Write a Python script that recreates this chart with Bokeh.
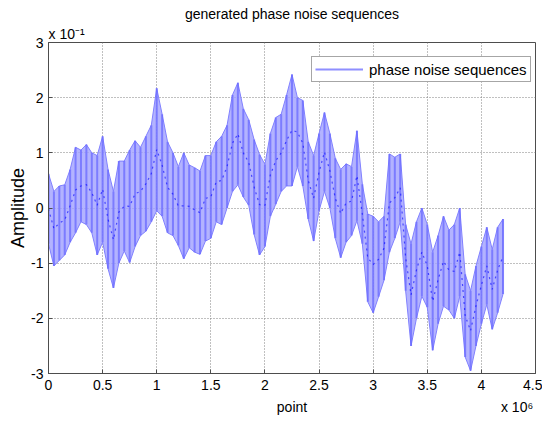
from bokeh.plotting import figure
from bokeh.models import (FixedTicker, CustomJSTickFormatter, Legend, LegendItem,
                          ColumnDataSource, Range1d, Title, LinearAxis)
from bokeh.embed import file_html
from bokeh.resources import INLINE

# point index (samples)
point = [0, 50000, 100000, 150000, 200000, 250000, 300000, 350000, 400000, 450000,
         500000, 550000, 600000, 650000, 700000, 750000, 800000, 850000, 900000, 950000,
         1000000, 1050000, 1100000, 1150000, 1200000, 1250000, 1300000, 1350000, 1400000, 1450000,
         1500000, 1550000, 1600000, 1650000, 1700000, 1750000, 1800000, 1850000, 1900000, 1950000,
         2000000, 2050000, 2100000, 2150000, 2200000, 2250000, 2300000, 2350000, 2400000, 2450000,
         2500000, 2550000, 2600000, 2650000, 2700000, 2750000, 2800000, 2850000, 2900000, 2950000,
         3000000, 3050000, 3100000, 3150000, 3200000, 3250000, 3300000, 3350000, 3400000, 3450000,
         3500000, 3550000, 3600000, 3650000, 3700000, 3750000, 3800000, 3850000, 3900000, 3950000,
         4000000, 4050000, 4100000, 4150000, 4200000]

# upper envelope of the phase noise band (amplitude)
upper = [0.062, 0.030, 0.040, 0.042, 0.070, 0.110, 0.105, 0.115, 0.100, 0.095,
         0.130, 0.070, 0.030, 0.085, 0.085, 0.105, 0.122, 0.110, 0.130, 0.150,
         0.217, 0.170, 0.120, 0.100, 0.075, 0.100, 0.078, 0.073, 0.067, 0.095,
         0.095, 0.120, 0.130, 0.150, 0.205, 0.227, 0.180, 0.160, 0.124, 0.097,
         0.079, 0.135, 0.164, 0.170, 0.205, 0.242, 0.200, 0.195, 0.120, 0.095,
         0.135, 0.173, 0.135, 0.090, 0.070, 0.080, 0.075, 0.140, 0.043, -0.011,
         -0.015, -0.025, -0.015, 0.098, 0.092, 0.098, -0.030, -0.065, -0.025, 0.000,
         -0.030, -0.080, -0.050, -0.015, -0.040, -0.030, 0.000, -0.120, -0.150, -0.105,
         -0.070, -0.035, -0.075, -0.035, -0.020]

# lower envelope of the phase noise band (amplitude)
lower = [-0.065, -0.105, -0.095, -0.085, -0.062, -0.045, -0.025, -0.030, -0.045, -0.085,
         -0.062, -0.110, -0.145, -0.100, -0.078, -0.099, -0.070, -0.050, -0.042, -0.025,
         -0.005, -0.015, -0.045, -0.050, -0.068, -0.092, -0.072, -0.080, -0.084, -0.060,
         -0.055, -0.025, -0.030, 0.000, 0.030, 0.042, 0.020, 0.005, -0.048, -0.085,
         -0.070, -0.015, 0.007, 0.030, 0.040, 0.040, 0.075, 0.040, -0.020, -0.060,
         -0.005, 0.030, 0.000, -0.055, -0.090, -0.062, -0.050, -0.023, -0.065, -0.170,
         -0.190, -0.161, -0.131, -0.080, -0.055, -0.025, -0.150, -0.250, -0.200, -0.160,
         -0.180, -0.258, -0.210, -0.178, -0.185, -0.200, -0.160, -0.270, -0.295, -0.250,
         -0.210, -0.175, -0.220, -0.190, -0.156]

x_ticks = [0, 500000, 1000000, 1500000, 2000000, 2500000, 3000000, 3500000, 4000000, 4500000]
y_ticks = [-0.3, -0.2, -0.1, 0.0, 0.1, 0.2, 0.3]

FONT = "Liberation Sans"

p = figure(frame_width=487, frame_height=331, output_backend="svg", toolbar_location=None,
           x_range=Range1d(0, 4500000), y_range=Range1d(-0.3, 0.3),
           min_border_left=48, min_border_right=7, min_border_top=42, min_border_bottom=42)
p.background_fill_color = "white"
p.border_fill_color = "white"
p.outline_line_color = "#4d4d4d"
p.outline_line_width = 1

# band fill
bx = point + point[::-1]
by = upper + lower[::-1]
p.patch(bx, by, fill_color="#a0a0ff", fill_alpha=0.8, line_color="#8080ff", line_width=1)

# vertical stripes of the dense signal
src = ColumnDataSource(dict(x=point, lo=lower, hi=upper,
                            mid=[(a + b) / 2 for a, b in zip(upper, lower)]))
seg = p.segment(x0="x", y0="lo", x1="x", y1="hi", source=src, line_color="#6a6aff",
                line_width=2, line_alpha=0.75)
p.line("x", "mid", source=src, line_color="#0000ff", line_width=1.2, line_alpha=0.6,
       line_dash="2 4")

# axes
p.xaxis.ticker = FixedTicker(ticks=x_ticks)
p.yaxis.ticker = FixedTicker(ticks=y_ticks)
p.xgrid.ticker = FixedTicker(ticks=x_ticks)
p.xaxis.formatter = CustomJSTickFormatter(code="return (tick/1e6).toString();")
p.yaxis.formatter = CustomJSTickFormatter(code="return (tick*10).toFixed(0);")
for ax in (p.xaxis, p.yaxis):
    ax.major_label_text_font = FONT
    ax.major_label_text_font_size = "14px"
    ax.major_label_text_color = "black"
    ax.axis_line_color = "#4d4d4d"
    ax.major_tick_line_color = "#4d4d4d"
    ax.major_tick_in = 4
    ax.major_tick_out = 0
    ax.minor_tick_line_color = None
    ax.axis_label_text_font = FONT
    ax.axis_label_text_font_style = "normal"
    ax.axis_label_text_color = "black"
p.xaxis.major_label_standoff = 6
p.yaxis.major_label_standoff = 5
p.yaxis.axis_label = "Amplitude"
p.yaxis.axis_label_text_font_size = "18px"
p.yaxis.axis_label_standoff = 0

# second row under the x axis: axis name "point" and the exponent "x 10^6"
row2_ticks = [2250000, 4330000]
row2_labels = {2250000: "point", 4330000: "x 10\u2076"}
xaxis2 = LinearAxis(ticker=FixedTicker(ticks=row2_ticks), major_label_overrides=row2_labels,
                    axis_line_color=None, major_tick_line_color=None,
                    minor_tick_line_color=None, major_label_standoff=0,
                    major_label_text_font=FONT, major_label_text_font_size="14px",
                    major_label_text_color="black")
p.add_layout(xaxis2, "below")

p.grid.grid_line_color = "#808080"
p.grid.grid_line_dash = "1 2"
p.grid.grid_line_width = 1

# exponent of the y axis (closest to frame), then main title
p.add_layout(Title(text="x 10\u207b\u00b9", align="left", text_font=FONT,
                   text_font_size="14px", text_font_style="normal", text_color="black",
                   standoff=2), "above")
p.add_layout(Title(text="generated phase noise sequences", align="center", text_font=FONT,
                   text_font_size="14px", text_font_style="normal", text_color="black",
                   standoff=1, offset=-5), "above")

# legend
legend = Legend(items=[LegendItem(label="phase noise sequences", renderers=[seg])],
                location=(263, 291))
legend.label_text_font = FONT
legend.label_text_font_size = "15px"
legend.label_text_color = "black"
legend.border_line_color = "#4d4d4d"
legend.border_line_width = 1
legend.background_fill_color = "white"
legend.background_fill_alpha = 1
legend.padding = 3
legend.margin = 0
legend.glyph_width = 48
legend.glyph_height = 18
legend.label_height = 18
legend.label_standoff = 6
legend.spacing = 0
p.add_layout(legend)

open("out.html", "w").write(file_html(p, INLINE))
